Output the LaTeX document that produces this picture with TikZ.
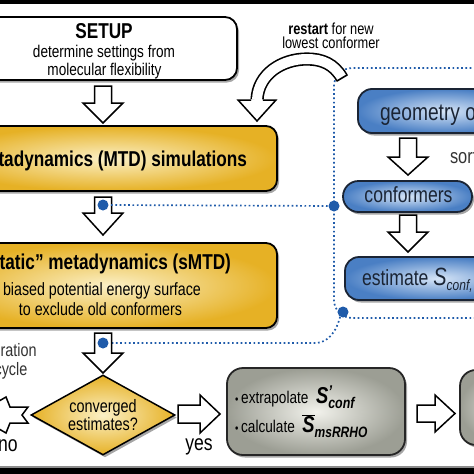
\documentclass[tikz,border=0pt]{standalone}
\usepackage{fontspec}
\setmainfont{Liberation Sans}[FakeStretch=0.8]
\usetikzlibrary{shadows,shapes.geometric}
\definecolor{gold}{HTML}{E6B125}
\definecolor{goldlight}{HTML}{FBF0C6}
\definecolor{blueA}{HTML}{4A7FC4}
\definecolor{blueL}{HTML}{D6E5F7}
\definecolor{navy}{HTML}{1A2434}
\definecolor{silver}{HTML}{9C9E94}
\definecolor{silverL}{HTML}{F2F2EC}
\definecolor{dotblue}{HTML}{1F5BAA}
\definecolor{txtgray}{HTML}{333333}
\newcommand\fsz[2]{\fontsize{#1}{#2}\selectfont}
% vertical hollow arrow: x, top, head base, tip, shaft half, head half
\newcommand\varrowdraw[6]{\draw[hollow] (#1-#5,#2) -- (#1+#5,#2) -- (#1+#5,#3) -- (#1+#6,#3) -- (#1,#4) -- (#1-#6,#3) -- (#1-#5,#3) -- cycle;}
% horizontal hollow arrow: y, tail, head base, tip, shaft half, head half
\newcommand\harrowdraw[6]{\draw[hollow] (#2,#1-#5) -- (#3,#1-#5) -- (#3,#1-#6) -- (#4,#1) -- (#3,#1+#6) -- (#3,#1+#5) -- (#2,#1+#5) -- cycle;}
\tikzset{
 shadowed/.style={drop shadow={shadow xshift=2pt,shadow yshift=-2.5pt,opacity=0.35,fill=black}},
 boxbase/.style={rectangle, line width=1.8pt, inner sep=0pt, shadowed},
 whitebox/.style={boxbase, draw=black, fill=white, rounded corners=12pt},
 goldbox/.style={boxbase, draw=black, inner color=goldlight, outer color=gold, rounded corners=11pt},
 bluebox/.style={boxbase, draw=navy, inner color=blueL, outer color=blueA, rounded corners=14pt},
 graybox/.style={boxbase, draw=black!85, inner color=silverL, outer color=silver, rounded corners=16pt},
 hollow/.style={draw=black, fill=white, line width=1.5pt, line join=miter},
 dotline/.style={draw=dotblue, line width=1.7pt, dash pattern=on 1.7pt off 2.6pt},
 bigdot/.style={circle, fill=dotblue, inner sep=0pt, minimum size=11pt},
 lbl/.style={inner sep=0pt, outer sep=0pt},
}
\begin{document}
\begin{tikzpicture}[x=1pt,y=-1pt]
\useasboundingbox (0,0) rectangle (474,474);
\clip (0,0) rectangle (474,474);
\fill[white] (0,0) rectangle (474,474);
% frame bars
\fill[black] (0,0) rectangle (474,3.5);
\fill[black!45] (0,465.5) rectangle (474,467.5);
\fill[black] (0,467.5) rectangle (474,474);

% dotted connections (behind)
\draw[dotline, rounded corners=18pt] (480,68) -- (334,68) -- (334,318) -- (480,318);
\draw[dotline] (103,343) -- (315,343) .. controls (328,343) and (337,332) .. (341,313);

% boxes
\node[whitebox, minimum width=257pt, minimum height=63pt] (setup) at (108.5,48.5) {};
\node[goldbox, minimum width=337pt, minimum height=65pt] (mtd) at (108.5,158.5) {};
\node[goldbox, minimum width=337pt, minimum height=85pt] (smtd) at (108.5,285.5) {};
\node[bluebox, minimum width=172pt, minimum height=44pt] (geo) at (444,111) {};
\node[bluebox, rounded corners=15.5pt, minimum width=129pt, minimum height=31pt] (conf) at (407.5,196.5) {};
\node[bluebox, minimum width=185pt, minimum height=43pt] (est) at (437.5,278.5) {};
\node[graybox, minimum width=178pt, minimum height=87pt] (calc) at (316,411.5) {};
\node[graybox, minimum width=100pt, minimum height=75pt] (next) at (510,407.5) {};
\node[diamond, draw=black, line width=1.5pt, inner sep=0pt, aspect=1.8,
      minimum width=144pt, minimum height=80pt, inner color=goldlight, outer color=gold,
      shadowed] (conv) at (103,415) {};

% texts
\node[lbl, anchor=base, font=\fsz{21.5}{24}\bfseries] (setupT) at (104,38.5) {SETUP};
\node[lbl, anchor=base, font=\fsz{17}{18}] (setupA) at (104,57.5) {determine settings from};
\node[lbl, anchor=base, font=\fsz{17}{18}] (setupB) at (104.5,75) {molecular flexibility};
\node[lbl, anchor=base east, font=\fsz{21.5}{24}\bfseries] (mtdT) at (247,166) {metadynamics (MTD) simulations};
\node[lbl, anchor=base east, font=\fsz{21.5}{24}\bfseries] (smtdT) at (231,269.5) {“static” metadynamics (sMTD)};
\node[lbl, anchor=base, font=\fsz{17.8}{18}] (smtdA) at (102,295) {biased potential energy surface};
\node[lbl, anchor=base, font=\fsz{17.8}{18}] (smtdB) at (100.5,315) {to exclude old conformers};
\node[lbl, anchor=base west, font=\fsz{24}{26}, text=navy] (geoT) at (380,120.5) {geometry optimization};
\node[lbl, anchor=base, font=\fsz{22}{24}, text=navy] (confT) at (408.5,202.7) {conformers};
\node[lbl, anchor=base west, font=\fsz{20.5}{22}, text=txtgray] (sortT) at (450,163) {sorting};
\node[lbl, anchor=base west, font=\fsz{22}{24}, text=navy] (estT) at (362,285)
  {estimate {\fsz{25}{25}\itshape S}\raisebox{-5pt}{\fsz{15}{15}\itshape conf,\,i}};
\node[lbl, align=center, font=\fsz{16}{14}] (restart) at (331,36.2) {\textbf{restart} for new\\lowest conformer};
\node[lbl, align=center, font=\fsz{18}{15.5}] (convT) at (103,415.2) {converged\\estimates?};
\node[lbl, anchor=base, font=\fsz{22}{24}] (yesT) at (199,450) {yes};
\node[lbl, anchor=base, font=\fsz{22}{24}] (noT) at (8,451.5) {no};
\node[lbl, align=center, font=\fsz{18}{19}, text=txtgray] (iter) at (11,360.9) {iteration\\cycle};
\node[lbl, anchor=base west, font=\fsz{17}{18}] (calcA) at (235,403.5)
  {{\fsz{12}{12}•}\,extrapolate\ \ {\fsz{23}{23}\bfseries\itshape S}\rlap{\raisebox{6.5pt}{\fsz{17}{17}\bfseries\itshape ’}}\raisebox{-4.5pt}{\fsz{15.5}{15.5}\bfseries\itshape conf}};
\node[lbl, anchor=base west, font=\fsz{17}{18}] (calcB) at (235,432.5)
  {{\fsz{12}{12}•}\,calculate\ \ $\overline{\hbox{\fsz{23}{23}\bfseries\itshape S}}$\raisebox{-4.5pt}{\fsz{15}{15}\bfseries\itshape msRRHO}};

% hollow block arrows
\varrowdraw{103}{86}{103}{123}{8.5}{20}
\varrowdraw{103}{197}{213}{235}{8.5}{20}
\varrowdraw{103}{333}{353}{373}{8.5}{20}
\varrowdraw{408}{138}{157}{175}{8.5}{20}
\varrowdraw{408}{215}{232}{252}{8.5}{20}
\harrowdraw{414}{178}{200}{220}{9}{19}
\harrowdraw{413.5}{417}{435}{455}{8.5}{18.5}
\draw[hollow] (28,407) -- (10,407) -- (6,397) -- (-25,415) -- (6,433) -- (10,423) -- (28,423) -- (22,415) -- cycle;

% restart curved arrow
\draw[line width=1.6pt, double=white, double distance=10pt]
  (342,78) .. controls (334,64) and (322,59) .. (307,59) .. controls (282,59) and (258,74) .. (257,100);
\fill[white] (238,99.3) -- (276,99.3) -- (257,121) -- cycle;
\draw[line width=1.5pt, line join=miter] (251.2,100) -- (238,100) -- (257,121) -- (276,100) -- (262.8,100);
\draw[line width=1.6pt] (347.4,74.8) -- (336.6,81.2);

% dotted branches and dots
\draw[dotline] (111,205) -- (334,206);
\node[bigdot] (d1) at (103,205) {};
\node[bigdot] (d2) at (334,206) {};
\node[bigdot] (d3) at (343,312) {};
\node[bigdot] (d4) at (103,343) {};
\end{tikzpicture}
\end{document}
